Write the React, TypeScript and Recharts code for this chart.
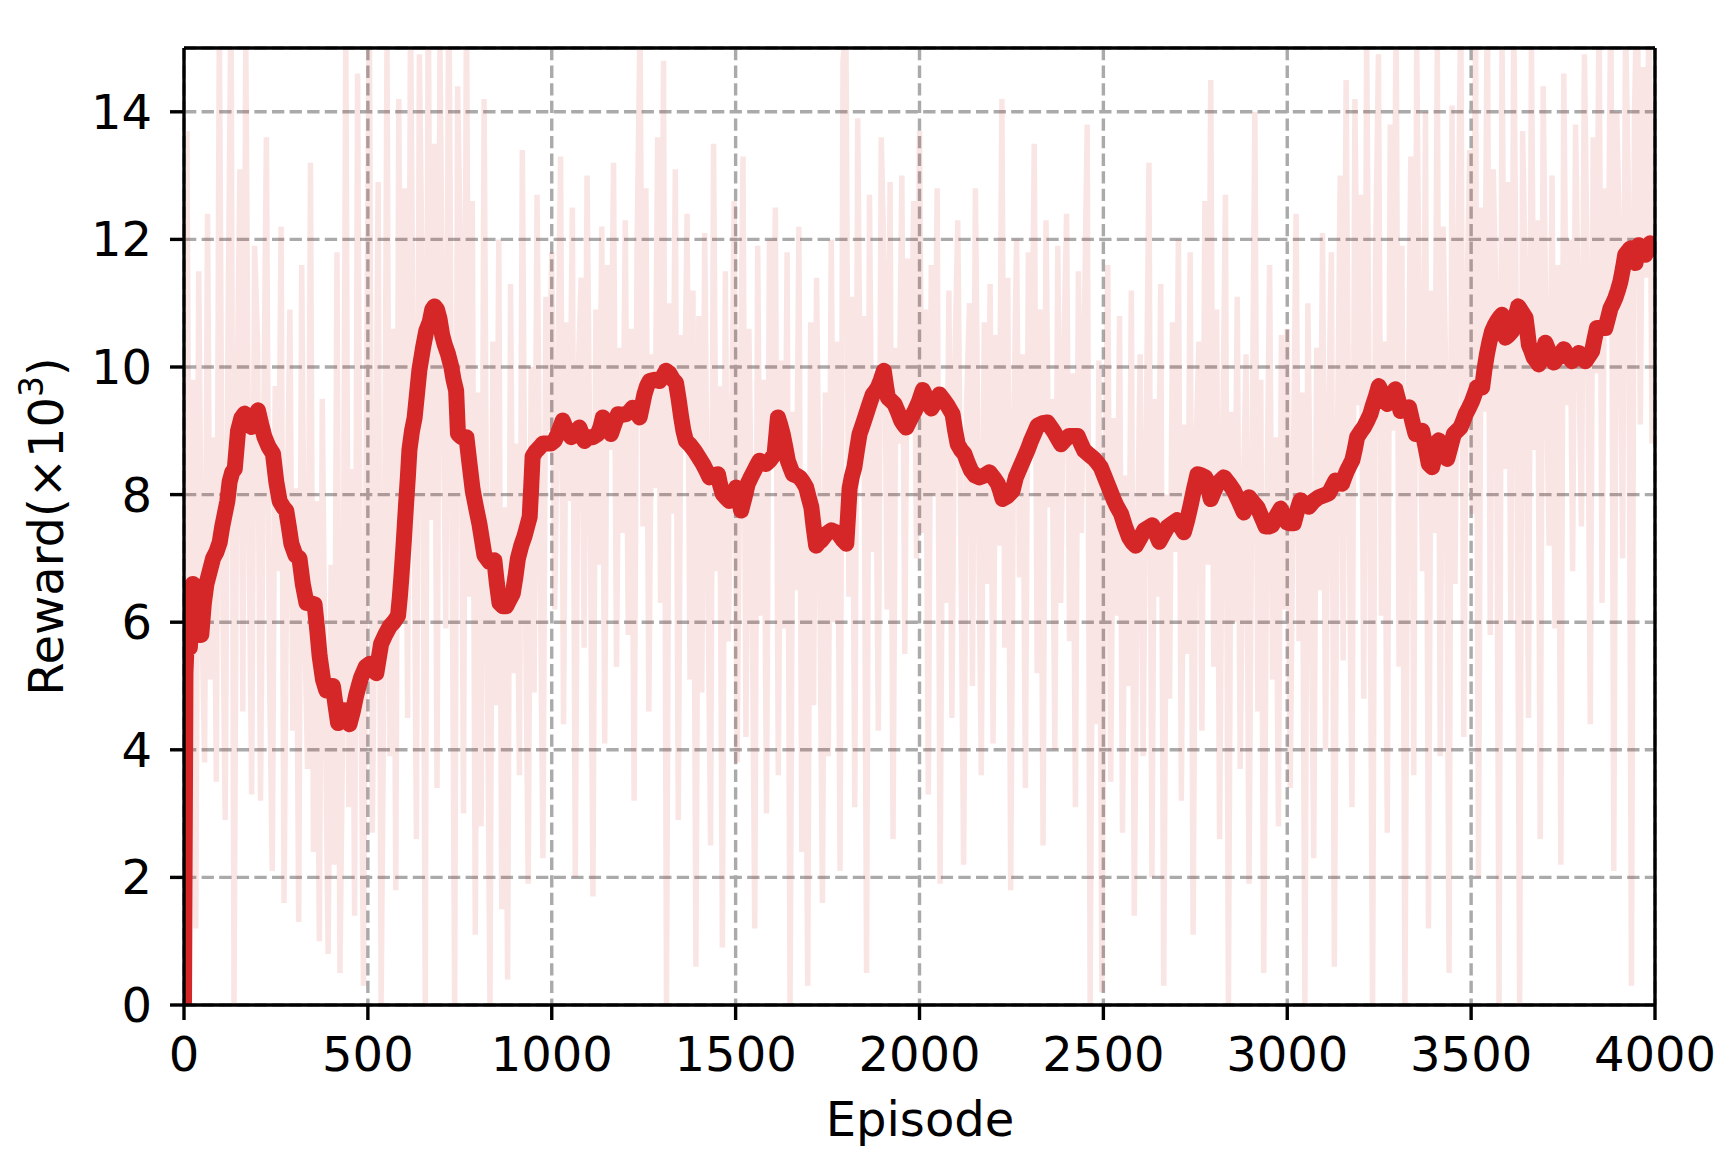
import React from 'react';
import { LineChart, Line, XAxis, YAxis, CartesianGrid, ReferenceLine } from 'recharts';

// Raw per-episode reward (x10^3), one sample every RAW_STEP episodes
const RAW_STEP = 8;
const RAW_REWARDS = [
  0.0, 13.7, 4.2, 9.8, 1.2, 11.5, 6.3, 3.8, 12.4, 5.1, 8.9, 3.5, 15.5, 7.2, 2.9, 10.8, 16.0, 0.0, 9.4, 13.1, 4.6, 15.2, 7.8, 3.3, 11.9,
  10.4, 3.2, 8.6, 13.6, 5.4, 2.1, 9.7, 6.8, 12.2, 1.6, 7.4, 10.9, 4.3, 8.1, 1.3, 11.6, 6.0, 3.7, 13.2, 2.4, 7.9, 1.0, 9.5, 4.8, 0.8,
  6.9, 2.2, 11.8, 0.5, 4.6, 15.3, 3.1, 8.4, 1.4, 14.6, 5.8, 0.3, 9.2, 15.8, 2.7, 7.0, 12.9, 0.0, 5.5, 15.1, 3.9, 10.6, 1.8, 14.2, 6.7,
  12.8, 4.5, 15.6, 9.3, 2.6, 14.9, 11.2, 0.0, 16.2, 7.6, 13.5, 3.4, 15.0, 10.1, 5.9, 16.5, 8.2, 0.0, 14.4, 11.7, 3.0, 15.9, 6.4, 12.6, 1.1,
  9.6, 2.8, 14.2, 6.1, 0.0, 10.4, 4.7, 12.0, 1.5, 7.8, 0.4, 11.3, 5.2, 8.8, 3.6, 13.4, 6.6, 1.9, 10.0, 4.9, 12.7, 7.3, 2.3, 11.1, 9.0,
  11.8, 6.2, 9.5, 13.3, 4.4, 10.7, 7.9, 12.5, 2.0, 9.9, 11.4, 5.6, 13.0, 8.3, 1.7, 10.9, 6.9, 12.2, 4.1, 11.6, 8.7, 13.2, 5.3, 10.3, 7.4,
  12.3, 5.8, 10.6, 3.2, 11.9, 15.4, 7.5, 12.8, 4.6, 10.2, 8.1, 13.6, 6.3, 14.8, 0.0, 11.0, 7.7, 13.1, 2.9, 10.5, 8.9, 12.4, 5.1, 11.2, 0.6,
  10.8, 4.9, 12.1, 7.0, 2.5, 13.5, 6.8, 9.7, 0.9, 11.5, 5.7, 8.4, 12.6, 3.8, 9.1, 13.3, 4.2, 10.6, 7.2, 1.2, 11.9, 6.1, 9.8, 3.0, 12.0,
  8.8, 12.5, 3.6, 10.1, 5.9, 11.8, 0.0, 9.3, 6.5, 12.2, 2.4, 8.0, 0.3, 10.7, 4.7, 11.4, 7.3, 1.6, 9.6, 3.9, 12.0, 6.0, 10.4, 2.1, 14.8,
  15.3, 6.4, 11.1, 3.1, 13.9, 8.5, 10.8, 0.5, 12.7, 7.1, 9.9, 4.3, 13.6, 11.5, 6.2, 12.9, 2.6, 10.3, 8.8, 13.0, 5.5, 11.7, 9.2, 12.6, 7.0,
  13.7, 7.4, 10.9, 3.3, 11.6, 8.0, 12.8, 1.9, 9.6, 6.3, 11.2, 4.5, 10.0, 12.3, 7.6, 2.2, 9.4, 11.0, 5.0, 12.8, 8.1, 3.6, 10.7, 6.6, 11.3,
  4.1, 10.5, 7.2, 14.2, 5.6, 11.4, 1.8, 9.0, 12.0, 6.7, 10.2, 3.4, 11.8, 8.6, 13.5, 5.2, 10.9, 2.5, 12.3, 7.8, 9.5, 4.0, 11.9, 6.3, 10.1,
  12.4, 5.7, 9.9, 3.1, 11.5, 7.4, 10.6, 13.8, 0.0, 8.5, 4.4, 10.1, 0.2, 7.9, 11.6, 3.5, 9.2, 6.1, 10.8, 2.7, 8.3, 5.0, 11.2, 1.4, 7.0,
  10.2, 3.9, 8.6, 13.2, 2.0, 9.5, 6.4, 11.3, 0.3, 8.0, 4.8, 10.7, 7.1, 12.0, 3.2, 9.1, 5.5, 11.8, 1.1, 8.8, 10.4, 4.3, 12.6, 6.9, 14.5,
  5.3, 10.9, 2.6, 8.7, 12.7, 0.0, 9.3, 6.0, 11.1, 3.7, 7.8, 10.2, 1.9, 8.4, 14.0, 4.6, 9.8, 0.5, 7.3, 11.6, 5.1, 8.9, 2.8, 10.5, 6.2,
  10.6, 3.4, 8.1, 12.4, 5.7, 9.6, 0.0, 11.0, 7.2, 2.3, 10.3, 6.5, 12.1, 4.0, 9.0, 11.8, 0.6, 8.6, 13.0, 5.4, 14.5, 7.9, 3.1, 14.2, 9.4,
  12.7, 4.8, 15.2, 8.3, 0.0, 11.6, 14.9, 6.1, 10.4, 2.7, 13.8, 9.0, 15.5, 5.3, 11.9, 0.0, 8.7, 13.3, 3.6, 15.1, 10.0, 6.8, 14.0, 1.2, 11.2,
  7.4, 15.0, 3.9, 12.2, 9.6, 0.5, 14.1, 6.6, 11.5, 15.8, 4.2, 10.8, 13.4, 7.7, 15.4, 2.0, 12.5, 9.3, 16.0, 5.8, 13.1, 11.0, 0.0, 15.2, 8.4,
  12.9, 6.0, 15.6, 9.8, 0.0, 13.7, 11.2, 4.5, 15.1, 8.7, 12.3, 2.6, 14.4, 10.1, 7.2, 13.0, 5.9, 11.6, 2.2, 14.6, 9.4, 12.0, 6.8, 13.8, 10.5,
  7.5, 14.9, 11.3, 4.4, 13.6, 9.9, 15.7, 6.3, 12.8, 10.6, 16.1, 2.1, 14.0, 11.8, 7.0, 15.4, 12.6, 0.3, 13.9, 16.3, 9.1, 14.7, 11.4, 15.9, 8.8,
  12.2,
];

// Smoothed reward trace: [episode, reward x10^3]
const SMOOTH_TRACE: [number, number][] = [
  [0, 0], [4, 5.2], [10, 6.1], [16, 5.6], [24, 6.6], [32, 6.2], [40, 5.8], [47, 5.8], [54, 6.3], [61, 6.6],
  [70, 6.8], [79, 7.0], [88, 7.1], [97, 7.25], [104, 7.5], [111, 7.7], [118, 7.9], [124, 8.2], [131, 8.35], [138, 8.4],
  [147, 9.0], [156, 9.2], [165, 9.27], [174, 9.15], [183, 9.06], [192, 9.2], [201, 9.32], [210, 9.1], [219, 8.9], [230, 8.75],
  [242, 8.64], [251, 8.2], [260, 7.9], [270, 7.8], [278, 7.75], [285, 7.5], [292, 7.23], [303, 7.05], [314, 7.0], [323, 6.6],
  [333, 6.3], [344, 6.3], [355, 6.28], [362, 5.9], [369, 5.46], [378, 5.1], [387, 4.93], [396, 5.0], [405, 5.0], [412, 4.7],
  [419, 4.42], [428, 4.55], [437, 4.62], [444, 4.45], [450, 4.4], [459, 4.6], [468, 4.85], [475, 5.0], [482, 5.14], [494, 5.3],
  [505, 5.35], [514, 5.3], [523, 5.2], [530, 5.45], [536, 5.66], [547, 5.8], [559, 5.93], [570, 6.0], [582, 6.1], [587, 6.4],
  [591, 6.7], [597, 7.2], [604, 7.86], [609, 8.3], [613, 8.7], [620, 9.0], [627, 9.2], [634, 9.6], [640, 9.95], [650, 10.3],
  [659, 10.57], [668, 10.7], [675, 10.9], [681, 10.95], [688, 10.9], [695, 10.75], [702, 10.5], [709, 10.35], [718, 10.2], [727, 10.0],
  [733, 9.8], [740, 9.63], [745, 8.95], [755, 8.9], [768, 8.9], [776, 8.5], [785, 8.07], [794, 7.8], [803, 7.55], [810, 7.3],
  [817, 7.05], [830, 6.95], [844, 6.97], [851, 6.6], [858, 6.3], [867, 6.25], [876, 6.25], [885, 6.35], [894, 6.45], [901, 6.7],
  [908, 7.0], [917, 7.2], [926, 7.35], [933, 7.5], [940, 7.65], [944, 8.1], [948, 8.6], [957, 8.68], [967, 8.74], [976, 8.8],
  [985, 8.8], [998, 8.8], [1008, 8.85], [1016, 8.95], [1023, 9.05], [1030, 9.16], [1041, 9.0], [1053, 8.9], [1064, 8.95], [1075, 9.05],
  [1082, 8.95], [1089, 8.84], [1100, 8.9], [1112, 8.9], [1125, 8.95], [1132, 9.05], [1139, 9.21], [1150, 9.05], [1161, 8.95], [1170, 9.1],
  [1180, 9.26], [1191, 9.25], [1202, 9.26], [1211, 9.3], [1220, 9.36], [1230, 9.3], [1239, 9.21], [1246, 9.4], [1252, 9.57], [1259, 9.7],
  [1266, 9.78], [1280, 9.8], [1293, 9.78], [1302, 9.85], [1311, 9.94], [1320, 9.9], [1330, 9.8], [1338, 9.75], [1345, 9.5], [1352, 9.21],
  [1358, 9.0], [1365, 8.84], [1376, 8.78], [1388, 8.69], [1400, 8.58], [1411, 8.48], [1420, 8.38], [1429, 8.27], [1440, 8.3], [1452, 8.32],
  [1458, 8.15], [1465, 8.01], [1474, 7.95], [1483, 7.9], [1492, 8.0], [1501, 8.11], [1508, 7.95], [1515, 7.75], [1524, 7.95], [1533, 8.17],
  [1542, 8.28], [1551, 8.38], [1558, 8.46], [1565, 8.53], [1574, 8.5], [1583, 8.48], [1595, 8.55], [1606, 8.64], [1611, 8.95], [1615, 9.21],
  [1621, 9.1], [1628, 8.95], [1635, 8.75], [1642, 8.53], [1649, 8.42], [1656, 8.32], [1665, 8.3], [1674, 8.27], [1683, 8.2], [1692, 8.11],
  [1699, 7.95], [1706, 7.8], [1712, 7.5], [1719, 7.2], [1726, 7.25], [1733, 7.28], [1746, 7.38], [1760, 7.44], [1769, 7.42], [1778, 7.4],
  [1790, 7.3], [1801, 7.23], [1806, 7.7], [1810, 8.1], [1816, 8.28], [1823, 8.43], [1830, 8.7], [1837, 8.95], [1846, 9.1], [1855, 9.26],
  [1864, 9.42], [1873, 9.57], [1880, 9.62], [1887, 9.68], [1895, 9.8], [1903, 9.94], [1909, 9.7], [1914, 9.52], [1923, 9.47], [1932, 9.42],
  [1941, 9.3], [1950, 9.16], [1957, 9.1], [1964, 9.05], [1975, 9.18], [1987, 9.31], [1998, 9.45], [2009, 9.64], [2020, 9.5], [2032, 9.35],
  [2043, 9.45], [2054, 9.57], [2066, 9.48], [2077, 9.39], [2090, 9.26], [2097, 9.0], [2104, 8.79], [2113, 8.7], [2122, 8.64], [2131, 8.5],
  [2140, 8.38], [2151, 8.3], [2163, 8.27], [2176, 8.3], [2190, 8.35], [2201, 8.27], [2213, 8.17], [2220, 8.05], [2226, 7.93], [2240, 7.98],
  [2253, 8.06], [2262, 8.27], [2273, 8.42], [2285, 8.58], [2294, 8.7], [2303, 8.84], [2312, 8.96], [2321, 9.08], [2335, 9.12], [2348, 9.13],
  [2358, 9.05], [2367, 8.97], [2376, 8.88], [2385, 8.79], [2396, 8.86], [2407, 8.92], [2419, 8.92], [2430, 8.92], [2439, 8.8], [2448, 8.69],
  [2462, 8.62], [2475, 8.56], [2484, 8.5], [2493, 8.43], [2502, 8.3], [2511, 8.17], [2520, 8.04], [2529, 7.91], [2538, 7.8], [2548, 7.7],
  [2559, 7.5], [2570, 7.33], [2579, 7.25], [2588, 7.2], [2600, 7.32], [2611, 7.44], [2622, 7.48], [2633, 7.52], [2642, 7.4], [2652, 7.26],
  [2663, 7.38], [2674, 7.49], [2688, 7.55], [2701, 7.6], [2710, 7.5], [2719, 7.41], [2728, 7.6], [2738, 7.85], [2747, 8.1], [2756, 8.32],
  [2767, 8.3], [2778, 8.27], [2785, 8.1], [2792, 7.93], [2801, 8.05], [2810, 8.17], [2819, 8.22], [2828, 8.27], [2842, 8.17], [2855, 8.06],
  [2868, 7.9], [2882, 7.72], [2889, 7.85], [2896, 7.96], [2907, 7.88], [2919, 7.8], [2930, 7.65], [2941, 7.5], [2950, 7.5], [2959, 7.52],
  [2970, 7.66], [2982, 7.78], [2991, 7.65], [3000, 7.56], [3009, 7.55], [3018, 7.55], [3027, 7.75], [3036, 7.91], [3047, 7.86], [3059, 7.81],
  [3072, 7.9], [3086, 7.96], [3100, 7.99], [3113, 8.02], [3122, 8.12], [3131, 8.22], [3140, 8.2], [3149, 8.17], [3156, 8.28], [3163, 8.38],
  [3170, 8.46], [3177, 8.54], [3184, 8.72], [3190, 8.9], [3199, 8.98], [3208, 9.05], [3217, 9.15], [3226, 9.26], [3233, 9.4], [3240, 9.52],
  [3249, 9.7], [3260, 9.55], [3272, 9.42], [3283, 9.55], [3294, 9.65], [3301, 9.5], [3308, 9.31], [3320, 9.34], [3331, 9.37], [3340, 9.15],
  [3349, 8.95], [3358, 8.98], [3367, 9.0], [3376, 8.75], [3385, 8.48], [3394, 8.43], [3403, 8.65], [3412, 8.85], [3424, 8.7], [3435, 8.56],
  [3444, 8.75], [3453, 8.95], [3462, 9.0], [3471, 9.05], [3478, 9.15], [3485, 9.26], [3494, 9.36], [3503, 9.47], [3510, 9.58], [3516, 9.68],
  [3523, 9.68], [3530, 9.68], [3536, 9.95], [3543, 10.2], [3550, 10.4], [3557, 10.56], [3564, 10.65], [3571, 10.72], [3578, 10.78], [3584, 10.82],
  [3589, 10.65], [3593, 10.46], [3602, 10.5], [3611, 10.56], [3619, 10.75], [3628, 10.95], [3638, 10.86], [3648, 10.77], [3653, 10.55], [3657, 10.35],
  [3664, 10.25], [3670, 10.15], [3677, 10.1], [3684, 10.04], [3693, 10.2], [3702, 10.38], [3713, 10.22], [3725, 10.07], [3738, 10.17], [3752, 10.28],
  [3763, 10.18], [3774, 10.09], [3784, 10.15], [3793, 10.22], [3802, 10.15], [3811, 10.09], [3820, 10.17], [3829, 10.25], [3836, 10.45], [3842, 10.61],
  [3853, 10.61], [3865, 10.61], [3872, 10.76], [3879, 10.92], [3886, 11.0], [3892, 11.08], [3899, 11.2], [3906, 11.34], [3913, 11.55], [3919, 11.76],
  [3926, 11.81], [3933, 11.86], [3940, 11.75], [3947, 11.63], [3952, 11.78], [3956, 11.91], [3965, 11.84], [3974, 11.76], [3980, 11.85], [3987, 11.94],
  [3994, 11.85], [4000, 11.85],
];

const X_TICKS = [0, 500, 1000, 1500, 2000, 2500, 3000, 3500, 4000];
const Y_TICKS = [0, 2, 4, 6, 8, 10, 12, 14];
const X_DOMAIN: [number, number] = [0, 4000];
const Y_DOMAIN: [number, number] = [0, 15];

const rawData = RAW_REWARDS.map((v, i) => ({ ep: i * RAW_STEP, v }));
const smoothData = SMOOTH_TRACE.map(([ep, v]) => ({ ep, v }));

const FONT = '"DejaVu Sans", "Liberation Sans", sans-serif';
const RED = '#d62728';
const AXIS = { stroke: '#000', strokeWidth: 3.4 };

function YLabel() {
  const cx = 55;
  const cy = 518.5;
  return (
    <text
      x={cx}
      y={cy}
      transform={`rotate(-90, ${cx}, ${cy})`}
      textAnchor="middle"
      fontSize={48}
      fontFamily={FONT}
      fill="#000"
    >
      Reward(×10
      <tspan fontSize={33} dy={-20}>3</tspan>
      <tspan dy={20}>)</tspan>
    </text>
  );
}

function XLabel() {
  return (
    <text x={912} y={1128} textAnchor="middle" fontSize={48} fontFamily={FONT} fill="#000">
      Episode
    </text>
  );
}

export default function App() {
  return (
    <div style={{ width: 1719, height: 1148, fontFamily: FONT }}>
      <LineChart width={1719} height={1148} margin={{ top: 40, right: 72, bottom: 0, left: 0 }}>
        <CartesianGrid stroke="#aaaaaa" strokeWidth={3.4} strokeDasharray="12.3 5.3" />
        <XAxis
          dataKey="ep"
          type="number"
          domain={X_DOMAIN}
          ticks={X_TICKS}
          interval={0}
          height={151}
          tickSize={15}
          tickMargin={17}
          tick={{ fontSize: 48, fill: '#000', fontFamily: FONT }}
          tickLine={AXIS}
          axisLine={AXIS}
          allowDataOverflow
          label={<XLabel />}
        />
        <YAxis
          type="number"
          domain={Y_DOMAIN}
          ticks={Y_TICKS}
          interval={0}
          width={176}
          tickSize={14}
          tickMargin={18}
          tick={{ fontSize: 48, fill: '#000', fontFamily: FONT }}
          tickLine={AXIS}
          axisLine={AXIS}
          allowDataOverflow
          label={<YLabel />}
        />
        <Line
          data={rawData}
          dataKey="v"
          type="linear"
          stroke={RED}
          strokeOpacity={0.12}
          strokeWidth={5.5}
          strokeLinejoin="miter"
          dot={false}
          activeDot={false}
          isAnimationActive={false}
        />
        <Line
          data={smoothData}
          dataKey="v"
          type="linear"
          stroke={RED}
          strokeWidth={16}
          strokeLinejoin="round"
          strokeLinecap="round"
          dot={false}
          activeDot={false}
          isAnimationActive={false}
        />
        <ReferenceLine y={15} stroke="#000" strokeWidth={3.4} ifOverflow="visible" />
        <ReferenceLine x={4000} stroke="#000" strokeWidth={3.4} ifOverflow="visible" />
      </LineChart>
    </div>
  );
}
